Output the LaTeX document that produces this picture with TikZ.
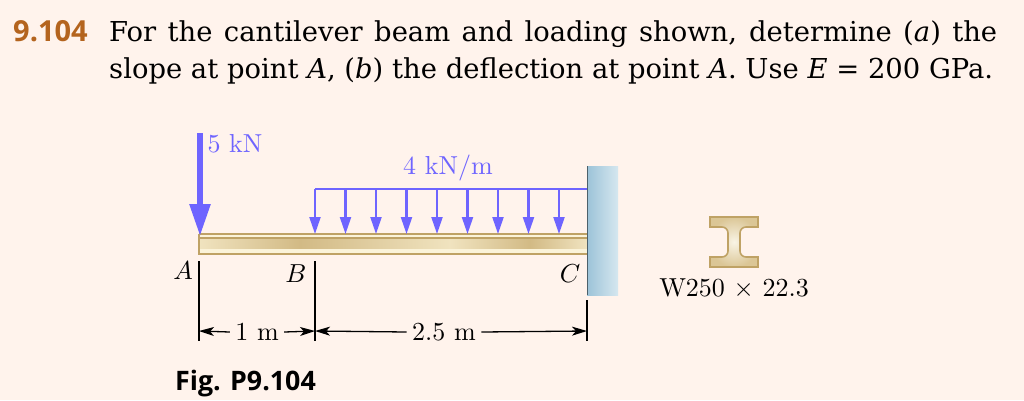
\documentclass[tikz,border=0pt]{standalone}
\usepackage{fontspec}
\usetikzlibrary{arrows.meta}
\newfontfamily\titlefont{DejaVu Serif}
\newfontfamily\headfont{Open Sans}
\definecolor{paper}{HTML}{FFF3EC}
\definecolor{loadblue}{HTML}{6E64FF}
\definecolor{headbrown}{HTML}{B4641E}
\definecolor{beamedge}{HTML}{BFA265}
\definecolor{beamdark}{HTML}{D2BA85}
\definecolor{beamlight}{HTML}{F0E3BF}
\definecolor{beamcream}{HTML}{FBF3D9}
\definecolor{walldark}{HTML}{9CC3D8}
\definecolor{walllight}{HTML}{D6E7EF}
\tikzset{
  label/.style={inner sep=0pt,scale=2.6},
  titleline/.style={inner sep=0pt,anchor=base west,font=\titlefont\fontsize{27.4}{27.4}\selectfont},
  dimline/.style={line width=1.3pt,black},
  dimtip/.style={line width=1.3pt,-{Stealth[length=15pt,width=9pt,inset=4pt]}},
  loadline/.style={line width=2.2pt,loadblue},
  loadtip/.style={line width=2.2pt,loadblue,-{Triangle[length=17pt,width=11pt]}}
}
\begin{document}
\begin{tikzpicture}[x=1pt,y=-1pt]
  \useasboundingbox[fill=paper] (0,0) rectangle (1024,400);
  % texts
  \draw
    (13,41) node[inner sep=0pt,anchor=base west,text=headbrown,font=\headfont\bfseries\fontsize{29}{29}\selectfont] (number){9.104}
    (109,41) node[titleline] (line1){\makebox[888pt][s]{For the cantilever beam and loading shown, determine (\textit{a}) the}}
    (109,78) node[titleline] (line2){\makebox[884pt][s]{slope at point \textit{A}, (\textit{b}) the deflection at point \textit{A}. Use \textit{E} = 200 GPa.}}
    (175,390) node[inner sep=0pt,anchor=base west,font=\headfont\bfseries\fontsize{26.8}{26.8}\selectfont] (figlabel){Fig. P9.104}
    (235,144) node[label,text=loadblue] (force){5 kN}
    (448,168) node[label,text=loadblue] (dist){4 kN/m}
    (183,271) node[label] (a){$A$}
    (296,274) node[label] (b){$B$}
    (570,274) node[label] (c){$C$}
    (734,289) node[label] (section){W250 $\times$ 22.3}
    (257,332) node[label] (len1){1 m}
    (444,332) node[label] (len2){2.5 m};
  % beam and wall
  \fill[beamcream] (199,233) rectangle (587,254);
  \shade[left color=beamlight,right color=beamdark] (199,238) rectangle (300,248);
  \shade[left color=beamdark,right color=beamlight] (300,238) rectangle (450,248);
  \shade[left color=beamlight,right color=beamdark] (450,238) rectangle (530,248);
  \shade[left color=beamdark,right color=beamlight] (530,238) rectangle (587,248);
  \draw[beamedge,line width=1.5pt] (199,238) -- (587,238);
  \draw[beamedge,line width=1.5pt] (199,234) -- (587,234) (587,254) -- (199,254) -- (199,234);
  \shade[left color=walldark,right color=walllight] (587,166) rectangle (618,295);
  \draw[line width=1pt,black!30!walldark!70!black] (587,166) -- (587,295);
  % section
  \shade[draw=beamedge,line width=1.6pt,inner color=white!60!beamlight,outer color=beamdark!70!beamlight]
    (710,217) -- (758,217) -- (758,227) -- (746,227) to[out=180,in=90] (740,233)
    -- (740,251) to[out=-90,in=180] (746,257) -- (758,257) -- (758,267)
    -- (710,267) -- (710,257) -- (722,257) to[out=0,in=-90] (728,251)
    -- (728,233) to[out=90,in=0] (722,227) -- (710,227) -- cycle;
  % end points
  \coordinate (top) at (200,133);
  \coordinate (tip) at (200,236);
  \coordinate (p0) at (315,189);
  \coordinate (p1) at (345.5,189);
  \coordinate (p2) at (376,189);
  \coordinate (p3) at (406.5,189);
  \coordinate (p4) at (437,189);
  \coordinate (p5) at (467.5,189);
  \coordinate (p6) at (498,189);
  \coordinate (p7) at (528.5,189);
  \coordinate (p8) at (559,189);
  \coordinate (p9) at (587,189);
  \coordinate (q0) at (315,234);
  \coordinate (q1) at (345.5,234);
  \coordinate (q2) at (376,234);
  \coordinate (q3) at (406.5,234);
  \coordinate (q4) at (437,234);
  \coordinate (q5) at (467.5,234);
  \coordinate (q6) at (498,234);
  \coordinate (q7) at (528.5,234);
  \coordinate (q8) at (559,234);
  \coordinate (extA) at (199,261);
  \coordinate (extB) at (315,261);
  \coordinate (extC) at (587,300);
  \coordinate (endA) at (199,341);
  \coordinate (endB) at (315,341);
  \coordinate (endC) at (587,341);
  \coordinate (dimA) at (199,331);
  \coordinate (dimB) at (315,331);
  \coordinate (dimC) at (587,331);
  % loads
  \draw[line width=5.5pt,loadblue,-{Triangle[length=32pt,width=20pt]}] (top) to (tip);
  \begin{scope}[loadtip]
    \draw (p0) to (q0);
    \draw (p1) to (q1);
    \draw (p2) to (q2);
    \draw (p3) to (q3);
    \draw (p4) to (q4);
    \draw (p5) to (q5);
    \draw (p6) to (q6);
    \draw (p7) to (q7);
    \draw (p8) to (q8);
  \end{scope}
  \draw[loadline] (p0) to (p9);
  % dimensions
  \draw[dimline] (extA) to (endA);
  \draw[dimline] (extB) to (endB);
  \draw[dimline] (extC) to (endC);
  \begin{scope}[dimtip]
    \draw (len1.west) ++(-5,0) to (dimA);
    \draw (len1.east) ++(5,0) to (dimB);
    \draw (len2.west) ++(-5,0) to (dimB);
    \draw (len2.east) ++(5,0) to (dimC);
  \end{scope}
\end{tikzpicture}
\end{document}
